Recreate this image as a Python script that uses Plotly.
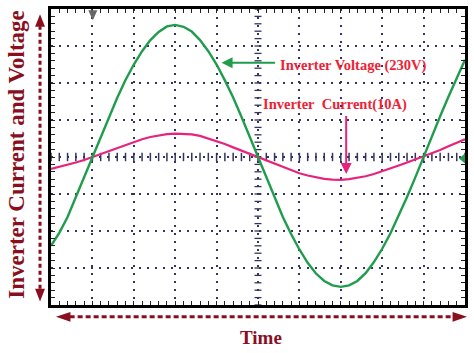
import plotly.graph_objects as go

# time axis in oscilloscope divisions (0..10)
time_div = [round(i * 0.2, 1) for i in range(51)]

# inverter voltage trace, in vertical divisions
voltage = [-2.40, -2.05, -1.62, -1.08, -0.56, 0.02, 0.55, 1.09, 1.60, 2.08,
           2.50, 2.86, 3.16, 3.38, 3.53, 3.57, 3.52, 3.39, 3.16, 2.86,
           2.50, 2.07, 1.61, 1.09, 0.54, -0.02, -0.57, -1.10, -1.62, -2.08,
           -2.50, -2.86, -3.15, -3.35, -3.47, -3.51, -3.47, -3.35, -3.14, -2.84,
           -2.48, -2.06, -1.58, -1.08, -0.55, 0.01, 0.56, 1.10, 1.63, 2.13,
           2.63]

# inverter current trace, in vertical divisions
current = [-0.32, -0.27, -0.22, -0.15, -0.08, 0.00, 0.09, 0.17, 0.26, 0.34,
           0.42, 0.48, 0.54, 0.59, 0.62, 0.63, 0.63, 0.61, 0.57, 0.50,
           0.43, 0.35, 0.26, 0.17, 0.08, -0.01, -0.10, -0.19, -0.28, -0.36,
           -0.44, -0.50, -0.55, -0.59, -0.61, -0.62, -0.60, -0.57, -0.52, -0.46,
           -0.39, -0.31, -0.23, -0.15, -0.07, 0.01, 0.10, 0.19, 0.29, 0.39,
           0.48]

# centre-line graticule tick positions
h_ticks = [round(i * 0.2, 1) for i in range(51)]
v_ticks = [round(-4 + i * 0.2, 1) for i in range(41)]

GREEN = "#1f9d4c"
PINK = "#e6247e"
RED = "#ee2236"
DARKRED = "#8a0f1e"
GRID = "#34345e"

fig = go.Figure()

# graticule centre tick marks
fig.add_trace(go.Scatter(x=h_ticks, y=[0] * len(h_ticks), mode="markers",
                         marker=dict(symbol="line-ns-open", size=6, color=GRID,
                                     line=dict(width=1.5, color=GRID)),
                         hoverinfo="skip", showlegend=False))
fig.add_trace(go.Scatter(x=[5] * len(v_ticks), y=v_ticks, mode="markers",
                         marker=dict(symbol="line-ew-open", size=5, color=GRID,
                                     line=dict(width=1.3, color=GRID)),
                         hoverinfo="skip", showlegend=False))

fig.add_trace(go.Scatter(x=time_div, y=current, mode="lines",
                         line=dict(color=PINK, width=2.2),
                         name="Inverter Current", showlegend=False))
fig.add_trace(go.Scatter(x=time_div, y=voltage, mode="lines",
                         line=dict(color=GREEN, width=2.4),
                         name="Inverter Voltage", showlegend=False))

axis_common = dict(
    showline=True, linewidth=2.5, linecolor="black", mirror="allticks",
    showgrid=True, gridcolor=GRID, gridwidth=1.8, griddash="2px,6px",
    zeroline=False, showticklabels=False,
    ticks="inside", ticklen=4, tickwidth=1.2, tickcolor="#222",
    dtick=1,
    minor=dict(dtick=0.2, ticks="inside", ticklen=4, tickwidth=1.2,
               tickcolor="#222", showgrid=False),
)
fig.update_xaxes(range=[0, 10], **axis_common)
fig.update_yaxes(range=[-4, 4], **axis_common)

font_b = "Liberation Serif"

annotations = [
    # voltage label + arrow
    dict(x=4.12, y=2.55, ax=5.45, ay=2.55, xref="x", yref="y",
         axref="x", ayref="y", text="", showarrow=True,
         arrowhead=2, arrowsize=1.1, arrowwidth=2, arrowcolor=GREEN),
    dict(x=7.30, y=2.47, xref="x", yref="y", showarrow=False,
         text="<b>Inverter Voltage (230V)</b>",
         font=dict(family=font_b, size=14.5, color=RED)),
    # current label + arrow
    dict(x=7.13, y=-0.46, ax=7.13, ay=1.15, xref="x", yref="y",
         axref="x", ayref="y", text="", showarrow=True,
         arrowhead=2, arrowsize=1.1, arrowwidth=2, arrowcolor=PINK),
    dict(x=6.86, y=1.42, xref="x", yref="y", showarrow=False,
         text="<b>Inverter&nbsp; Current(10A)</b>",
         font=dict(family=font_b, size=14.5, color=RED)),
    # axis titles
    dict(x=-0.0819, y=0.508, xref="paper", yref="paper", showarrow=False,
         xanchor="center", yanchor="middle",
         text="<b>Inverter Current and Voltage</b>", textangle=-90,
         font=dict(family=font_b, size=23, color=DARKRED)),
    dict(x=0.508, y=-0.110, xref="paper", yref="paper", showarrow=False,
         xanchor="center", yanchor="middle",
         text="<b>Time</b>",
         font=dict(family=font_b, size=19, color=DARKRED)),
]

shapes = [
    # left dotted double arrow
    dict(type="line", xref="paper", yref="paper", x0=-0.0265, x1=-0.0265,
         y0=0.055, y1=0.942, line=dict(color=DARKRED, width=3, dash="4px,3px")),
    dict(type="path", xref="paper", yref="paper",
         path="M -0.0265,0.982 L -0.0145,0.940 L -0.0385,0.940 Z",
         fillcolor=DARKRED, line=dict(width=0)),
    dict(type="path", xref="paper", yref="paper",
         path="M -0.0265,0.012 L -0.0145,0.055 L -0.0385,0.055 Z",
         fillcolor=DARKRED, line=dict(width=0)),
    # bottom dotted double arrow
    dict(type="line", xref="paper", yref="paper", x0=0.045, x1=0.972,
         y0=-0.0401, y1=-0.0401, line=dict(color=DARKRED, width=3, dash="5px,3px")),
    dict(type="path", xref="paper", yref="paper",
         path="M 0.012,-0.0401 L 0.047,-0.0234 L 0.047,-0.0568 Z",
         fillcolor=DARKRED, line=dict(width=0)),
    dict(type="path", xref="paper", yref="paper",
         path="M 1.005,-0.0401 L 0.970,-0.0234 L 0.970,-0.0568 Z",
         fillcolor=DARKRED, line=dict(width=0)),
    # trigger marker (top)
    dict(type="path", xref="paper", yref="paper",
         path="M 0.101,0.962 L 0.090,0.996 L 0.112,0.996 Z",
         fillcolor="#666", line=dict(width=0)),
    # channel marker (right)
    dict(type="path", xref="paper", yref="paper",
         path="M 0.9855,0.495 L 1.0,0.512 L 1.0,0.478 Z",
         fillcolor=GREEN, line=dict(width=0)),
]

fig.update_layout(
    width=474, height=353,
    margin=dict(l=51, r=8, t=6, b=48),
    paper_bgcolor="white", plot_bgcolor="white",
    annotations=annotations, shapes=shapes,
    showlegend=False,
)

fig.write_html("out.html")
